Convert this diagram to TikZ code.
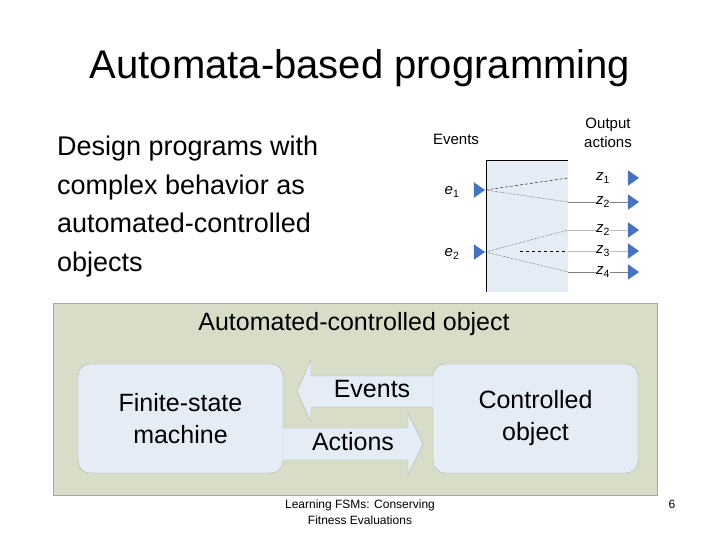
\documentclass[tikz,border=0pt]{standalone}
\usepackage{fontspec}
\setmainfont{Liberation Sans}
\usetikzlibrary{positioning,arrows,calc,shapes.geometric}
\definecolor{panelblue}{RGB}{228,236,246}
\definecolor{outergreen}{RGB}{216,221,200}
\definecolor{tipblue}{RGB}{68,114,196}
\tikzset{
    x=1pt, y=-1pt,
    state/.style = {
        draw=gray!60,
        fill=panelblue,
        rounded corners=12pt,
        minimum width=205pt,
        minimum height=109pt,
        align=center,
        font=\fontsize{25}{32}\selectfont
    },
    flow/.style = {
        draw=gray!60,
        fill=panelblue
    },
    bigtxt/.style = {font=\fontsize{25}{30}\selectfont},
    smalltxt/.style = {font=\fontsize{15}{17}\selectfont, inner sep=1pt},
    evtip/.style = {fill=tipblue, draw=none, shape=isosceles triangle,
        minimum size=11pt, inner sep=0pt, isosceles triangle apex angle=70},
    >=latex',
}
\begin{document}
\begin{tikzpicture}
    \useasboundingbox (0,0) rectangle (720,540);
    \node[font=\fontsize{40}{48}\selectfont] (title) at (360,68) {Automata-based programming};
    \node[anchor=north west, align=left, inner sep=0pt,
        font=\fontsize{27}{38.5}\selectfont] (text) at (57,136)
        {Design programs with\\complex behavior as\\automated-controlled\\objects};

    % small event/action diagram
    \fill[panelblue] (486,160) rectangle (568,292);
    \draw (486,292) -- (486,160) -- (568,160);
    \node[smalltxt] (ev) at (456,139) {Events};
    \node[smalltxt, align=center, font=\fontsize{15}{19}\selectfont] (out) at (608,133) {Output\\actions};
    \node[smalltxt] (e1) at (452,192) {\textit{e}\textsubscript{1}};
    \node[smalltxt] (e2) at (452,254) {\textit{e}\textsubscript{2}};
    \node[evtip] (t1) at (478,190) {};
    \node[evtip] (t2) at (478,252) {};
    \foreach \n/\y/\s in {a/178/1,b/202/2,c/230/2,d/251/3,e/272/4} {
        \coordinate (in\n) at (568,\y);
        \node[evtip] (o\n) at (632,\y) {};
        \node[smalltxt, fill=white, inner sep=0pt] (z\n) at (603,\y) {\textit{z}\textsubscript{\s}};
    }
    \draw[densely dashed] (t1.east) -- (ina);
    \draw[densely dotted] (t1.east) -- (inb);
    \draw[densely dotted] (t2.east) -- (inc);
    \draw[densely dotted] (t2.east) -- (ine);
    \draw[dashed] (520,251) -- (ind);
    \draw[gray] (inb) -- (zb) -- (ob);
    \draw[gray!50] (inc) -- (zc) -- (oc);
    \draw[gray!50] (ind) -- (zd) -- (od);
    \draw[gray] (ine) -- (ze) -- (oe);

    % automated-controlled object
    \draw[gray!70, fill=outergreen] (53,303) rectangle (657,495);
    \node[bigtxt] (acobj) at (354,324) {Automated-controlled object};
    \node[state] (fsm) at (180.5,418.5) {Finite-state\\machine};
    \node[state] (ctl) at (535.5,418.5) {Controlled\\object};
    \draw[flow] (fsm.east |- 0,428) -- (408,428) -- (408,413) -- (423,444)
        -- (408,475) -- (408,460) -- (fsm.east |- 0,460);
    \draw[flow] (ctl.west |- 0,376) -- (311,376) -- (311,360) -- (297,391)
        -- (311,422) -- (311,407) -- (ctl.west |- 0,407);
    \node[bigtxt] (evtext) at (372,389) {Events};
    \node[bigtxt] (actext) at (353,442) {Actions};

    \node[align=center, font=\fontsize{12}{16}\selectfont] (foot) at (360,512)
        {Learning FSMs: Conserving\\Fitness Evaluations};
    \node[font=\fontsize{12}{14}\selectfont] (page) at (672,504) {6};
\end{tikzpicture}
\end{document}
